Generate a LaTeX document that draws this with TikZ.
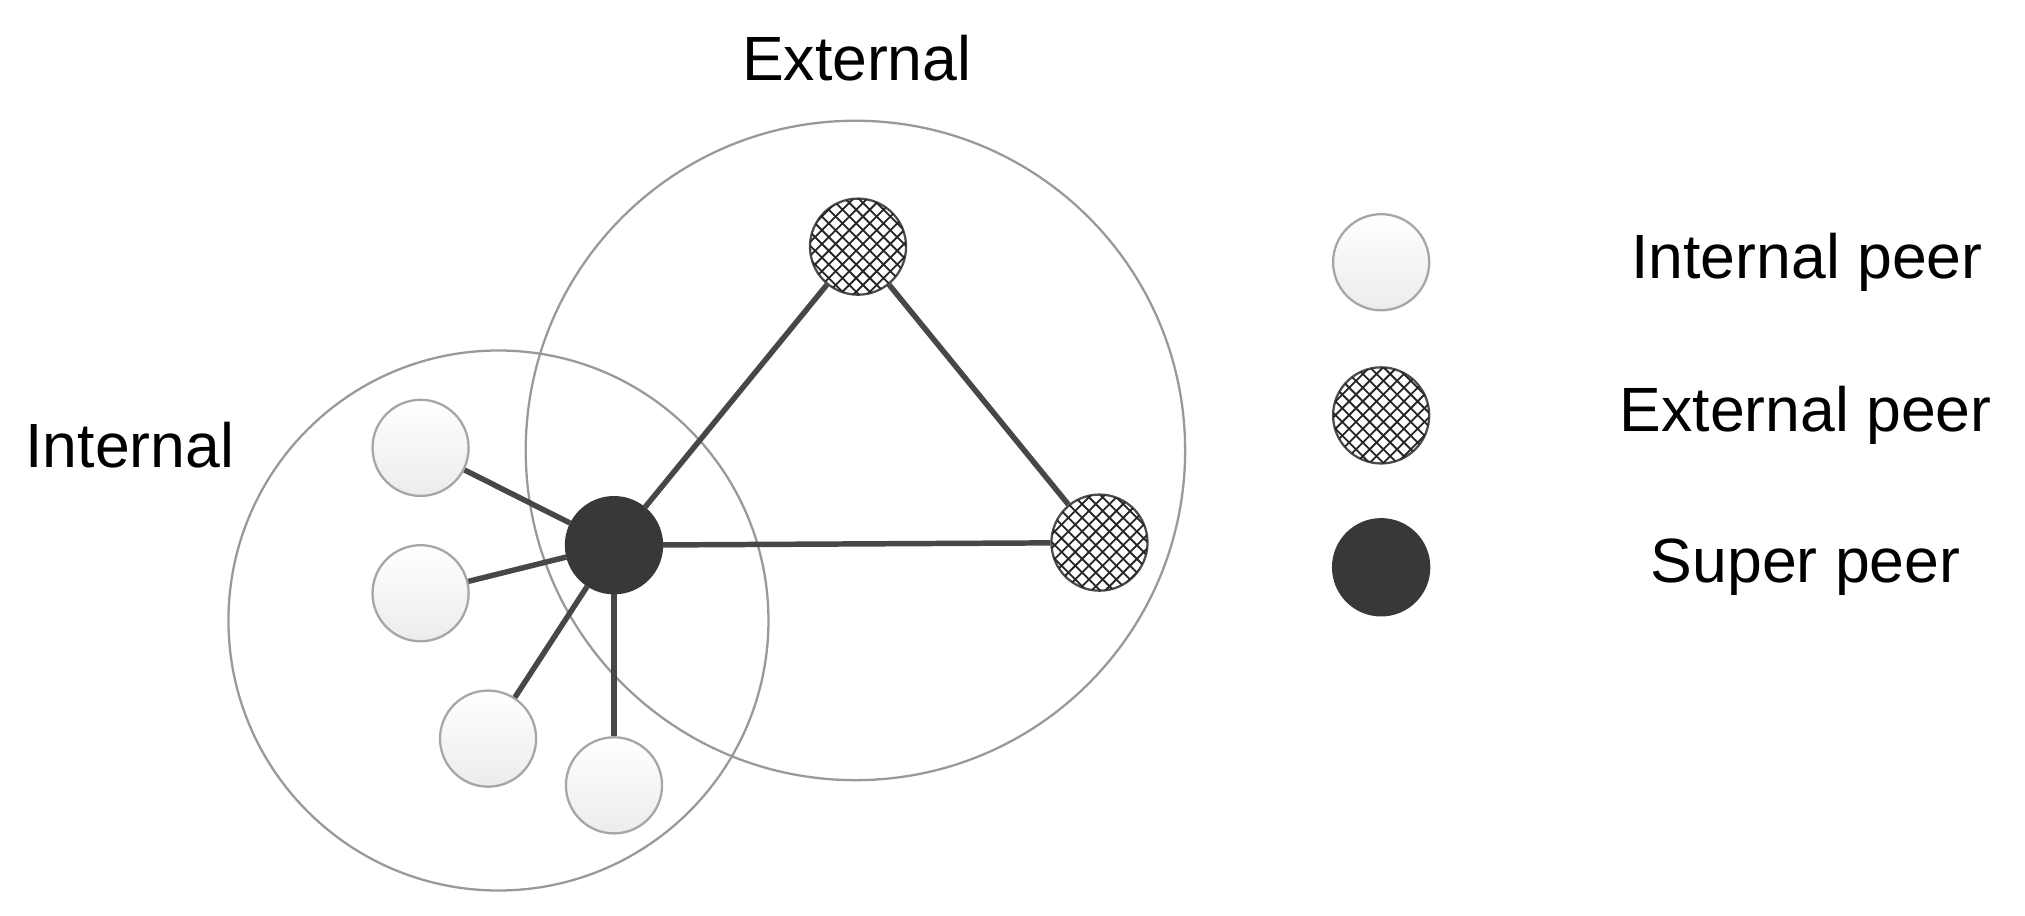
\documentclass[tikz,border=0pt]{standalone}
\usepackage{fontspec}
\setmainfont{Liberation Sans}
\usetikzlibrary{patterns}
\begin{document}
\begin{tikzpicture}[x=0.01cm,y=-0.01cm,
  lbl/.style={font=\fontsize{13.7}{16}\selectfont},
  zone/.style={draw=gray!80,line width=0.5pt},
  peer/.style={circle,minimum size=0.74cm,inner sep=0pt,draw=gray!70,line width=0.5pt},
  inpeer/.style={peer,top color=white,bottom color=gray!15},
  expeer/.style={peer,draw=gray!60!black,fill=white,postaction={pattern=crosshatch,pattern color=black!85}},
  sppeer/.style={peer,fill=black!78,draw=black!78},
  link/.style={draw=black!72,line width=1.2pt}]
\useasboundingbox (0,0) rectangle (1560,705);
\draw[zone] (384,478) circle (208);
\draw[zone] (659,347) circle (254);
\node[sppeer] (s) at (473,420) {};
\node[inpeer] (i1) at (324,345) {};
\node[inpeer] (i2) at (324,457) {};
\node[inpeer] (i3) at (376,569) {};
\node[inpeer] (i4) at (473,605) {};
\node[expeer] (e1) at (661,190) {};
\node[expeer] (e2) at (847,418) {};
\foreach \n in {i1,i2,i3,i4,e1,e2} \draw[link] (s) -- (\n);
\draw[link] (e1) -- (e2);
\node[lbl] (tE) at (660,45) {External};
\node[lbl] (tI) at (100,343) {Internal};
\node[inpeer] (l1) at (1064,202) {};
\node[expeer] (l2) at (1064,320) {};
\node[sppeer] (l3) at (1064,437) {};
\node[lbl] (t1) at (1392,202) {Internal peer};
\node[lbl] (t2) at (1391,320) {External peer};
\node[lbl] (t3) at (1391,437) {Super peer};
\end{tikzpicture}
\end{document}
